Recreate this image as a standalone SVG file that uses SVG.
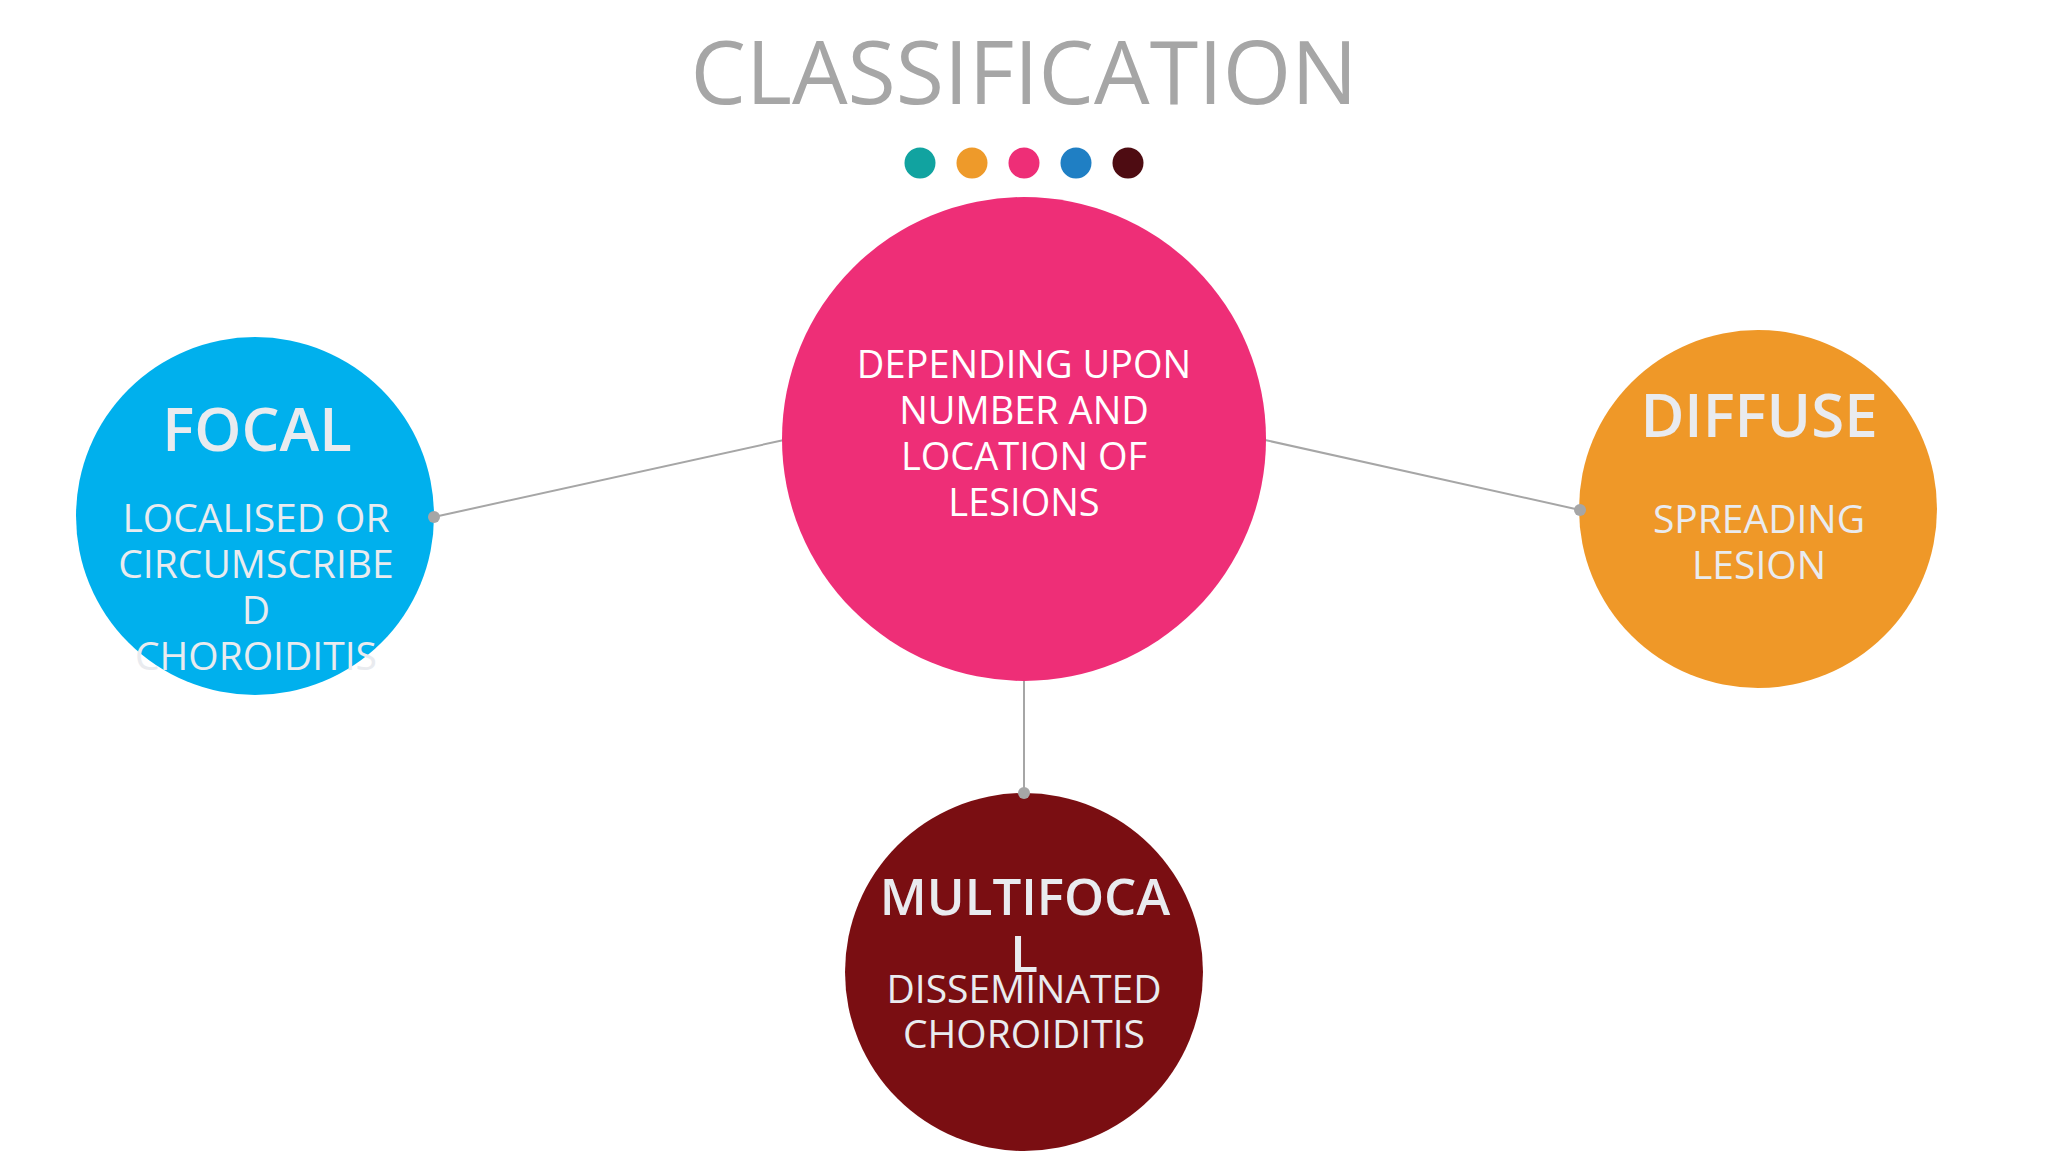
<svg xmlns="http://www.w3.org/2000/svg" width="2048" height="1152" viewBox="0 0 2048 1152">
<style>
  text { font-family: "Open Sans", "Liberation Sans", sans-serif; text-anchor: middle; }
  .title { fill: #a6a6a6; font-size: 88px; }
  .head { fill: #e9ebef; font-size: 60px; font-weight: 600; }
  .sub { fill: #e9ebef; font-size: 39px; }
  .center { fill: #ffffff; font-size: 38px; }
  .conn { stroke: #a6a6a6; stroke-width: 2; fill: none; }
  .cdot { fill: #a6a6a6; }
</style>
<rect x="0" y="0" width="2048" height="1152" fill="#ffffff"/>
<g id="title">
  <text class="title" x="1024" y="104">CLASSIFICATION</text>
  <circle cx="920" cy="163" r="15.5" fill="#11a3a0"/>
  <circle cx="972" cy="163" r="15.5" fill="#ee9a2a"/>
  <circle cx="1024" cy="163" r="15.5" fill="#ee2e77"/>
  <circle cx="1076" cy="163" r="15.5" fill="#1f7fc4"/>
  <circle cx="1128" cy="163" r="15.5" fill="#4e0c12"/>
</g>
<g id="connectors">
  <line class="conn" x1="434" y1="517" x2="784" y2="440"/>
  <line class="conn" x1="1265" y1="440" x2="1580" y2="510"/>
  <line class="conn" x1="1024" y1="681" x2="1024" y2="793"/>
</g>
<g id="center">
  <circle cx="1024" cy="439" r="242" fill="#ee2e77"/>
  <text class="center" x="1024" y="378">DEPENDING UPON</text>
  <text class="center" x="1024" y="424">NUMBER AND</text>
  <text class="center" x="1024" y="470">LOCATION OF</text>
  <text class="center" x="1024" y="516">LESIONS</text>
</g>
<g id="focal">
  <circle cx="255" cy="516" r="179" fill="#00b0ed"/>
  <text class="head" x="257" y="451">FOCAL</text>
  <text class="sub" x="256" y="532">LOCALISED OR</text>
  <text class="sub" x="256" y="578">CIRCUMSCRIBE</text>
  <text class="sub" x="256" y="624">D</text>
  <text class="sub" x="256" y="670">CHOROIDITIS</text>
</g>
<g id="diffuse">
  <circle cx="1758" cy="509" r="179" fill="#ef9828"/>
  <text class="head" x="1759" y="437">DIFFUSE</text>
  <text class="sub" x="1759" y="533">SPREADING</text>
  <text class="sub" x="1759" y="579">LESION</text>
</g>
<g id="multifocal">
  <circle cx="1024" cy="972" r="179" fill="#7a0e12"/>
  <text class="head" x="1025" y="915" style="font-size:51px">MULTIFOCA</text>
  <text class="head" x="1024" y="972" style="font-size:51px">L</text>
  <text class="sub" x="1024" y="1003">DISSEMINATED</text>
  <text class="sub" x="1024" y="1048">CHOROIDITIS</text>
</g>
<g id="connector-dots">
  <circle class="cdot" cx="434" cy="517" r="6"/>
  <circle class="cdot" cx="1580" cy="510" r="6"/>
  <circle class="cdot" cx="1024" cy="793" r="6"/>
</g>
</svg>
